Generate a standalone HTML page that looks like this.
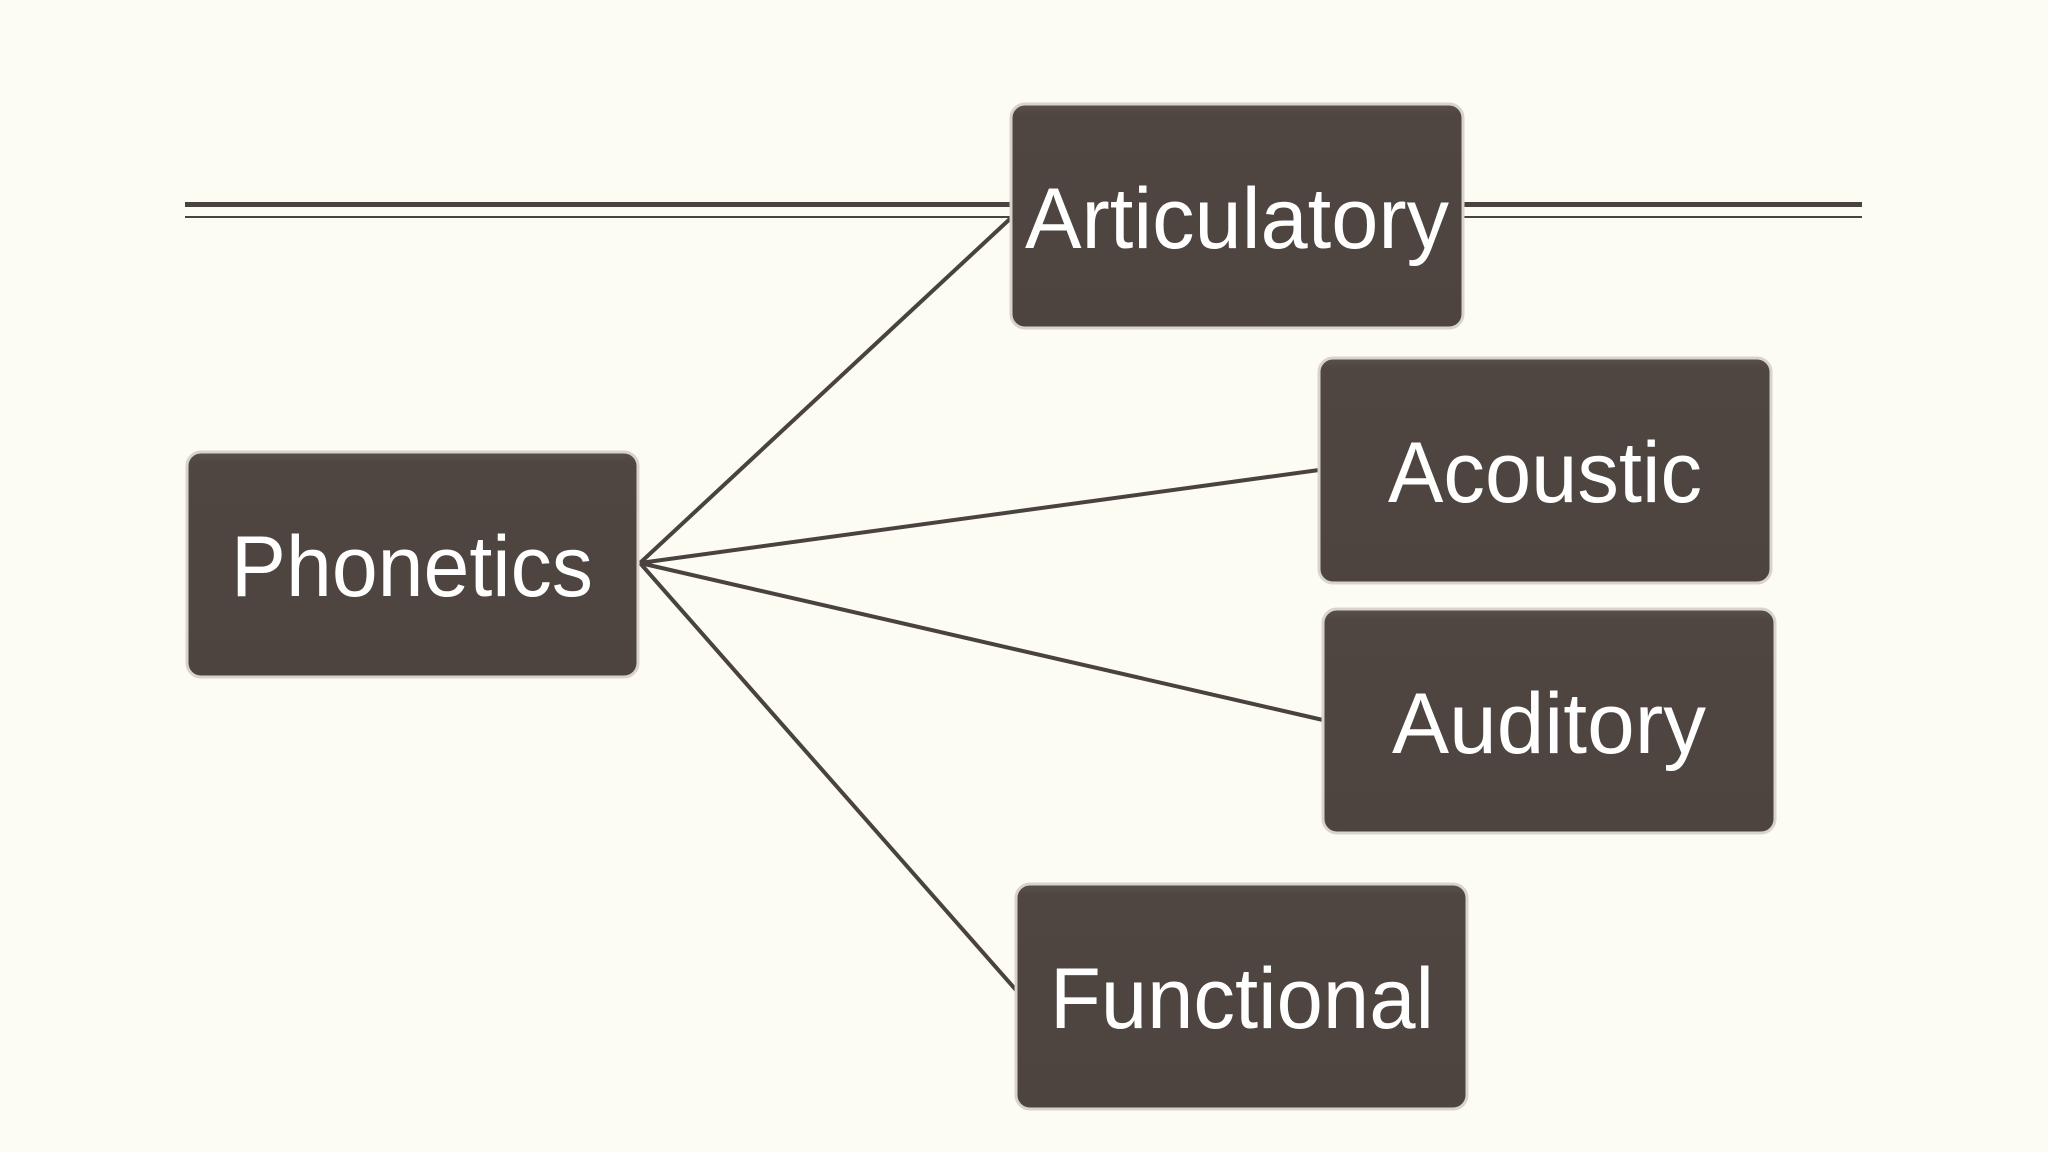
<!DOCTYPE html>
<html><head><style>
html,body{margin:0;padding:0;background:#fdfcf3;}
svg{display:block}
</style></head><body>
<svg width="2048" height="1152" viewBox="0 0 2048 1152" xmlns="http://www.w3.org/2000/svg">
<defs>
<linearGradient id="g" x1="0" y1="0" x2="0" y2="1">
<stop offset="0" stop-color="#5a504b"/><stop offset="0.05" stop-color="#4f4541"/><stop offset="1" stop-color="#4d4440"/>
</linearGradient>
</defs>
<rect width="2048" height="1152" fill="#fdfcf3"/>
<rect x="185" y="202" width="1677" height="5" fill="#4a423e"/>
<rect x="185" y="216" width="1677" height="2" fill="#4a423e"/>
<g stroke="#4a423e" stroke-width="4" fill="none">
<line x1="640" y1="563" x2="1012" y2="217"/>
<line x1="640" y1="563" x2="1319" y2="470"/>
<line x1="640" y1="563" x2="1323" y2="720"/>
<line x1="640" y1="563" x2="1016" y2="990"/>
</g>
<g fill="url(#g)" stroke="#d8d3cc" stroke-width="3">
<rect x="1011" y="104" width="452" height="224" rx="14"/>
<rect x="1319" y="358" width="452" height="225" rx="14"/>
<rect x="1323" y="609" width="452" height="224" rx="14"/>
<rect x="1016" y="884" width="451" height="225" rx="14"/>
<rect x="187" y="452" width="451" height="225" rx="14"/>
</g>
<g fill="#ffffff" font-family="Liberation Sans, sans-serif" font-size="86" text-anchor="middle">
<text x="1237" y="248" textLength="424" lengthAdjust="spacingAndGlyphs">Articulatory</text>
<text x="1545" y="502" textLength="314" lengthAdjust="spacingAndGlyphs">Acoustic</text>
<text x="1549" y="753" textLength="314" lengthAdjust="spacingAndGlyphs">Auditory</text>
<text x="1242" y="1028" textLength="384" lengthAdjust="spacingAndGlyphs">Functional</text>
<text x="412" y="596" textLength="362" lengthAdjust="spacingAndGlyphs">Phonetics</text>
</g>
</svg>
</body></html>
